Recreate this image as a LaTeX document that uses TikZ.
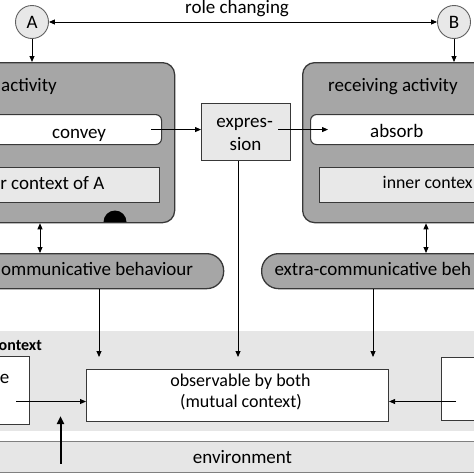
\documentclass[tikz,border=0pt]{standalone}
\usepackage{fontspec}
\setmainfont{Carlito}
\usetikzlibrary{arrows.meta}
\definecolor{boxgray}{HTML}{A6A6A6}
\definecolor{lightfill}{HTML}{E8E8E8}
\definecolor{band}{HTML}{E6E6E6}
\definecolor{edge}{HTML}{383838}
\begin{document}
\begin{tikzpicture}[x=1pt,y=-1pt,
  txt/.style={font=\fontsize{19}{22}\selectfont, inner sep=0pt, text=black},
  bigbox/.style={draw=edge, line width=1.3pt, fill=boxgray, rounded corners=12pt, inner sep=0pt, anchor=north west},
  whitebox/.style={draw=edge, line width=1.1pt, fill=white, rounded corners=6pt, inner sep=0pt, anchor=north west},
  ctxbox/.style={draw=edge, line width=1.1pt, fill=lightfill, inner sep=0pt, anchor=north west},
  plainbox/.style={draw=edge, line width=1.1pt, fill=white, inner sep=0pt, anchor=north west},
  pill/.style={draw=edge, line width=1.3pt, fill=boxgray, rounded corners=17pt, inner sep=0pt, anchor=north west},
  circ/.style={circle, draw=edge!80, fill=lightfill, line width=0.9pt, minimum size=33pt, inner sep=0pt, font=\fontsize{19}{22}\selectfont},
  arr/.style={-{Triangle[length=6pt,width=5pt]}, line width=0.9pt},
  darr/.style={{Triangle[length=6pt,width=5pt]}-{Triangle[length=6pt,width=5pt]}, line width=0.9pt},
  thickarr/.style={-{Triangle[length=8pt,width=7pt]}, line width=2pt}
]
\useasboundingbox (0,0) rectangle (474,474);
\clip (0,0) rectangle (474,474);

% bands
\node[fill=band, inner sep=0pt, anchor=north west, minimum width=474pt, minimum height=100pt] (ctx) at (0,331) {};
\node[fill=band, draw=gray, line width=1pt, inner sep=0pt, anchor=north west, minimum width=490pt, minimum height=31pt] (env) at (-8,441) {};

% activity boxes
\node[bigbox, minimum width=340pt, minimum height=160pt] (send) at (-166,62) {};
\node[bigbox, minimum width=340pt, minimum height=160pt] (recv) at (302,62) {};
\node[whitebox, minimum width=200pt, minimum height=30pt] (convey) at (-39,114) {};
\node[whitebox, minimum width=300pt, minimum height=30pt] (absorb) at (310,114) {};
\node[ctxbox, minimum width=200pt, minimum height=35pt] (innerA) at (-41,167) {};
\node[ctxbox, minimum width=300pt, minimum height=35pt] (innerB) at (319,167) {};
\fill[black] (103.5,222) arc[start angle=180, end angle=360, radius=11.5] -- cycle;

\node[ctxbox, minimum width=89pt, minimum height=57pt] (expr) at (201,103) {};

\node[circ] (A) at (32,22) {A};
\node[circ] (B) at (454,22) {B};

\node[pill, minimum width=400pt, minimum height=35pt] (pillA) at (-177,253) {};
\node[pill, minimum width=400pt, minimum height=35pt] (pillB) at (261,253) {};

\node[plainbox, minimum width=80pt, minimum height=68pt] (ctxL) at (-51,356) {};
\node[plainbox, minimum width=100pt, minimum height=63pt] (ctxR) at (441,357) {};
\node[plainbox, minimum width=302pt, minimum height=52pt] (obs) at (86,369) {};

% helper coordinates
\coordinate (xL) at (40,0);
\coordinate (xR) at (426,0);
\coordinate (xa) at (99,0);
\coordinate (xb) at (238,0);
\coordinate (xc) at (373,0);
\coordinate (xe) at (60.5,0);
\coordinate (yh) at (0,401.5);

% connectors
\draw[darr] (A.east) -- (B.west);
\draw[arr] (A.south) -- (A.south |- send.north);
\draw[arr] (B.south) -- (B.south |- recv.north);
\draw[arr] ([xshift=-11pt]convey.east) -- (convey.east -| expr.west);
\draw[arr] ([xshift=-13pt]expr.east |- convey.east) -- ([xshift=18pt]absorb.west);
\draw[darr] (send.south -| xL) -- (pillA.north -| xL);
\draw[darr] (recv.south -| xR) -- (pillB.north -| xR);
\draw[arr, shorten >=12pt] (pillA.south -| xa) -- (obs.north -| xa);
\draw[arr, shorten >=12pt] (expr.south -| xb) -- (obs.north -| xb);
\draw[arr, shorten >=12pt] (pillB.south -| xc) -- (obs.north -| xc);
\draw[arr] ([xshift=-14pt]ctxL.east |- yh) -- (obs.west |- yh);
\draw[arr] ([xshift=15pt]ctxR.west |- yh) -- (obs.east |- yh);
\draw[thickarr] ([yshift=-6.5pt]env.center -| xe) -- ([yshift=6pt]obs.south -| xe);

% texts
\node[txt, anchor=base west] (trole) at (185,13.5) {role changing};
\node[txt, anchor=base east] (tsend) at (57,91) {activity};
\node[txt, anchor=base west] (trecv) at (328,91) {receiving activity};
\node[txt, anchor=base west] (tconvey) at (52,138) {convey};
\node[txt, anchor=base west] (tabsorb) at (370,137) {absorb};
\node[txt, anchor=base east] (tinnerA) at (104.5,189.5) {r context of A};
\node[txt, font=\fontsize{17.8}{21}\selectfont, anchor=base west] (tinnerB) at (382.5,188.5) {inner contex};
\node[txt, anchor=base] (texpr1) at (244.7,127.3) {expres-};
\node[txt, anchor=base] (texpr2) at (245.5,150) {sion};
\node[txt, anchor=base east] (tpillA) at (193.3,275) {ommunicative behaviour};
\node[txt, anchor=base west] (tpillB) at (274.3,275) {extra-communicative beh};
\node[txt, font=\fontsize{16}{19}\selectfont\bfseries, anchor=base east] (tctx) at (42,350) {ontext};
\node[txt, anchor=base east] (tctxL) at (9.5,383) {e};
\node[txt, font=\fontsize{18}{21}\selectfont, anchor=base] (tobs1) at (240.5,386) {observable by both};
\node[txt, font=\fontsize{18}{21}\selectfont, anchor=base] (tobs2) at (241,407.5) {(mutual context)};
\node[txt, anchor=base] (tenv) at (242.5,463.7) {environment};
\end{tikzpicture}
\end{document}
